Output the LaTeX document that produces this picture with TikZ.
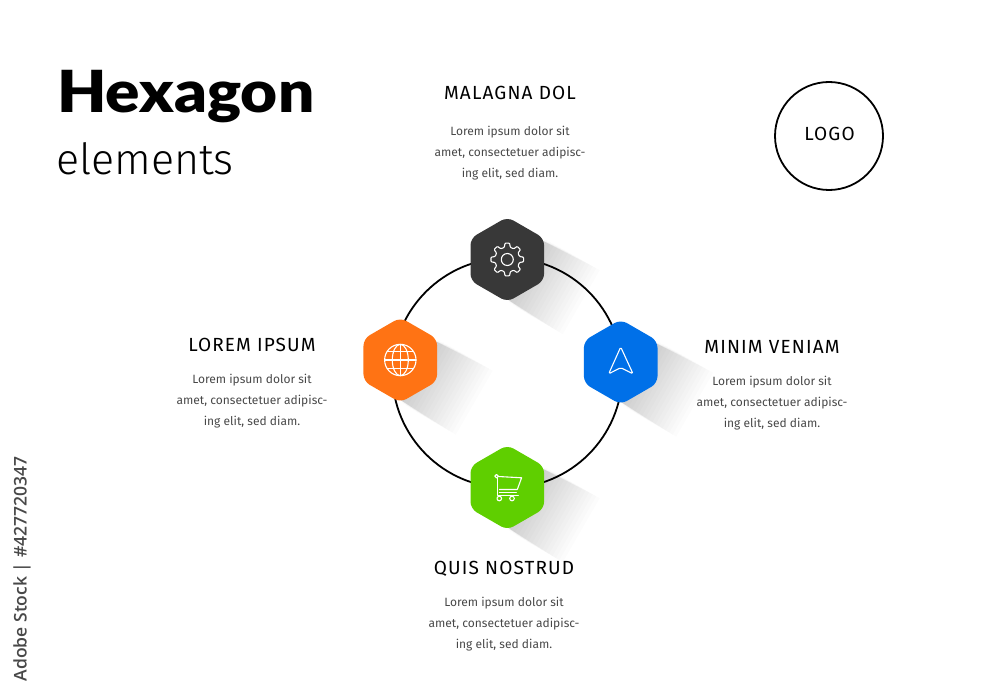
\documentclass[tikz,border=0pt]{standalone}
\usepackage{fontspec}
\setmainfont{Fira Sans}
\newfontfamily\heavyfont[FakeStretch=1.1]{Lato Black}
\newfontfamily\thinfont{Fira Sans Light}
\newfontfamily\capsfont[LetterSpace=6]{Fira Sans}
\newfontfamily\stockfont{Open Sans Semibold}
\usepackage{tikz}
\usetikzlibrary{shapes.geometric,calc,backgrounds}

\definecolor{hexdark}{HTML}{383838}
\definecolor{hexorange}{HTML}{FF7314}
\definecolor{hexblue}{HTML}{0070E8}
\definecolor{hexgreen}{HTML}{5FCF00}
\definecolor{bodygray}{HTML}{484848}

\begin{document}
\begin{tikzpicture}[x=1pt,y=-1pt,
    hex node/.style={regular polygon,regular polygon sides=6,shape border rotate=-30,minimum size=85pt,inner sep=0pt,rounded corners=7pt,fill=#1},
    hex shadow/.style={fill=black,opacity=0.011},
    icon line/.style={draw=white,line width=1.1pt,line join=round,line cap=round},
    heading/.style={font=\capsfont\fontsize{19}{21}\selectfont,text=black},
    body text/.style={font=\fontsize{12}{21}\selectfont,text=bodygray,align=center},
    node distance=56pt]
    \useasboundingbox (0,0) rectangle (1000,695);

    % hexagons
    \node[hex node=hexdark] (gear) at (507.3,259.5) {};
    \node[hex node=hexorange] (globe) at (400.3,360) {};
    \node[hex node=hexblue] (arrow) at (620.7,362) {};
    \node[hex node=hexgreen] (cart) at (507.3,487.5) {};

    % long shadows and ring go behind the hexagons
    \begin{pgfonlayer}{background}
    \foreach \n in {gear,globe,arrow,cart}
        \foreach \t in {4,8,...,64}
            \fill[hex shadow] ($(\n.corner 1)+(-3,2)$) -- ($(\n.corner 1)+({.866*\t},{.5*\t})$) -- ($(\n.corner 5)+({.866*\t},{.5*\t})$) -- ($(\n.corner 5)+(0,-3)$) -- cycle;
    \node[circle,draw=black,line width=1.8pt,minimum size=230pt,inner sep=0pt] (ring) at (507.3,373) {};
    \end{pgfonlayer}

    % icons
    \begin{scope}[shift={(gear.center)}]
        \draw[icon line,rounded corners=0.8pt] (-14:12.5)
            \foreach \a in {0,45,...,315} {-- (\a-14:12.5) -- (\a-8:16.5) -- (\a+8:16.5) -- (\a+14:12.5)} -- cycle;
        \draw[icon line] (0,0) circle (6);
    \end{scope}
    \begin{scope}[shift={(globe.center)}]
        \draw[icon line] (0,0) circle (15.7);
        \draw[icon line] (0,0) ellipse (8 and 15.7);
        \draw[icon line] (0,-15.7) -- (0,15.7);
        \draw[icon line] (-15.7,0) -- (15.7,0);
        \draw[icon line] (-13.2,-8.5) -- (13.2,-8.5);
        \draw[icon line] (-13.2,8.5) -- (13.2,8.5);
    \end{scope}
    \begin{scope}[shift={(arrow.center)}]
        \draw[icon line,rounded corners=1.5pt] (0,-15) -- (12.3,11.8) -- (0,5.7) -- (-12,11.8) -- cycle;
    \end{scope}
    \begin{scope}[shift={(cart.center)}]
        \draw[icon line] (-10.7,-11.3) circle (1.8);
        \draw[icon line] (-8.9,-11) -- (14.3,-9.7) -- (10,2) -- (-8,2);
        \draw[icon line] (-8,5.3) -- (9,5.3);
        \draw[icon line] (-10,-9.5) -- (-10,7.7) -- (11,7.7);
        \draw[icon line] (-8,11) circle (2.3);
        \draw[icon line] (4.7,11) circle (2.3);
    \end{scope}

    % title
    \node[anchor=base west,inner sep=0pt,font=\heavyfont\fontsize{58}{60}\selectfont] (title) at (57,113) {Hexagon};
    \node[anchor=base west,inner sep=0pt,font=\thinfont\fontsize{43}{44}\selectfont] (subtitle) at (56,175) {elements};

    % logo
    \node[circle,draw=black,line width=1.8pt,minimum size=108pt,inner sep=0pt] (logo) at (829,136) {};
    \node[heading] (logotext) at (829.5,134) {LOGO};

    % labels
    \node[heading] (malagna) at (510,93) {MALAGNA DOL};
    \node[body text] (malagnatext) [below of=malagna,node distance=60pt] {Lorem ipsum dolor sit\\amet, consectetuer adipisc-\\ing elit, sed diam.};
    \node[heading] (lorem) at (252,345) {LOREM IPSUM};
    \node[body text] (loremtext) [below of=lorem] {Lorem ipsum dolor sit\\amet, consectetuer adipisc-\\ing elit, sed diam.};
    \node[heading] (minim) at (772,347) {MINIM VENIAM};
    \node[body text] (minimtext) [below of=minim] {Lorem ipsum dolor sit\\amet, consectetuer adipisc-\\ing elit, sed diam.};
    \node[heading] (quis) at (504,569) {QUIS NOSTRUD};
    \node[body text] (quistext) [below of=quis,node distance=55pt] {Lorem ipsum dolor sit\\amet, consectetuer adipisc-\\ing elit, sed diam.};

    % stock line
    \node[rotate=90,font=\stockfont\fontsize{17.5}{21}\selectfont,text=bodygray] (stock) at (22,569) {Adobe Stock | \#427720347};
\end{tikzpicture}
\end{document}
